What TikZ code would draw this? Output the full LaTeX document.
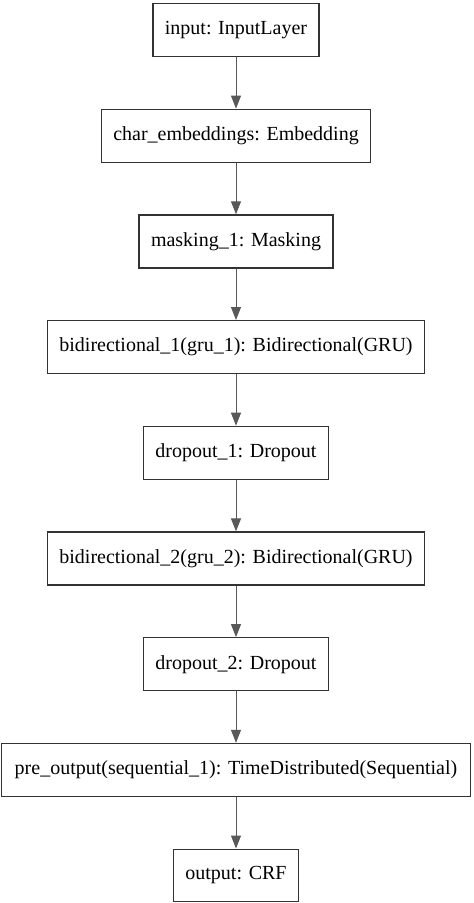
\documentclass[tikz,border=0pt]{standalone}
\usepackage{fontspec}
\setmainfont{Liberation Serif}
\usetikzlibrary{shapes,arrows.meta,chains}

\begin{document}
\begin{tikzpicture}[%
    x=1pt, y=1pt,
    >={Triangle[width=10pt,length=13pt]}, % Filled heads as in the model plot
    start chain=going below,    % Layers run top-to-bottom
    node distance=51.5pt,       % Gap between boxes
    every join/.style={norm},   % Default linetype for connecting layers
    ]
\useasboundingbox (0,0) rectangle (474,-903);
% -------------------------------------------------
% Box and connector styles
\tikzset{
  base/.style={draw=black!80, line width=1.2pt, on chain,
    align=center, minimum height=53pt, inner xsep=12pt,
    font=\fontsize{20}{23}\selectfont},
  layer/.style={base, rectangle},
  norm/.style={->, draw=black!65, line width=1pt}
}
% -------------------------------------------------
% Layers of the network, each joined to the one above
\node [layer, at={(236,-30)}] (input) {input: InputLayer};
\node [layer, join] (emb) {char\_embeddings: Embedding};
\node [layer, join] (mask) {masking\_1: Masking};
\node [layer, join] (bi1) {bidirectional\_1(gru\_1): Bidirectional(GRU)};
\node [layer, join] (drop1) {dropout\_1: Dropout};
\node [layer, join] (bi2) {bidirectional\_2(gru\_2): Bidirectional(GRU)};
\node [layer, join] (drop2) {dropout\_2: Dropout};
\node [layer, join, inner xsep=13pt] (pre)
  {pre\_output(sequential\_1): TimeDistributed(Sequential)};
\node [layer, join, minimum height=52pt] (output) {output: CRF};
% -------------------------------------------------
\end{tikzpicture}
\end{document}
